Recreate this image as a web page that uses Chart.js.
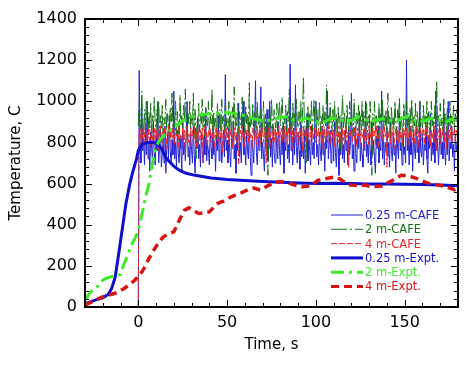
<!DOCTYPE html>
<html>
<head>
<meta charset="utf-8">
<script src="https://cdn.jsdelivr.net/npm/chart.js@4/dist/chart.umd.min.js"></script>
<style>
  html, body { margin: 0; padding: 0; background: #fff; }
  #wrap { width: 474px; height: 366px; }
</style>
</head>
<body>
<div id="wrap"><canvas id="temps"></canvas></div>
<script>
// tick labels
const xTicks = [0, 50, 100, 150]
const yTicks = [0, 200, 400, 600, 800, 1000, 1200, 1400]

// CAFE runs, two samples per second from t = 0 (one row = 10 s)
const cafeStart = 0
const cafeStep = 0.5
const cafe025 = [
  0, 1150, 780, 700, 960, 760, 820, 690, 880, 740, 1000, 720, 800, 660, 850, 770, 710, 900, 750, 690,
  830, 760, 1000, 700, 790, 860, 680, 740, 820, 700, 880, 650, 770, 840, 720, 930, 760, 690, 810, 740,
  1050, 720, 800, 680, 860, 750, 700, 820, 770, 660, 900, 740, 800, 710, 850, 1000, 730, 780, 690, 840,
  760, 700, 880, 740, 650, 810, 770, 920, 720, 790, 680, 850, 760, 700, 830, 740, 960, 710, 790, 760,
  690, 850, 770, 720, 880, 740, 800, 660, 820, 760, 930, 710, 790, 840, 700, 770, 860, 730, 1130, 760,
  810, 700, 870, 750, 680, 820, 770, 900, 720, 790, 650, 840, 760, 990, 730, 800, 700, 860, 1000, 740,
  780, 690, 850, 760, 720, 900, 740, 640, 810, 770, 700, 870, 1100, 750, 690, 830, 760, 880, 1070, 720,
  800, 740, 660, 850, 770, 960, 710, 790, 1000, 730, 820, 680, 880, 750, 700, 840, 770, 720, 900, 760,
  690, 830, 740, 880, 650, 800, 760, 940, 720, 790, 700, 1180, 760, 830, 690, 870, 740, 1080, 780, 700,
  850, 760, 670, 900, 730, 800, 720, 860, 650, 770, 940, 710, 810, 760, 690, 880, 740, 800, 720, 960,
  1000, 730, 790, 690, 850, 760, 710, 880, 740, 800, 660, 830, 770, 1050, 720, 790, 860, 700, 760, 840,
  710, 900, 750, 680, 820, 770, 640, 850, 740, 920, 720, 790, 700, 860, 760, 810, 690, 880, 740, 800,
  1040, 720, 790, 660, 870, 750, 700, 830, 770, 950, 710, 800, 740, 680, 860, 760, 1000, 730, 790, 700,
  850, 760, 690, 900, 740, 810, 720, 650, 830, 770, 880, 700, 790, 760, 1050, 720, 840, 690, 800, 750,
  870, 730, 800, 680, 920, 760, 710, 830, 740, 790, 650, 860, 770, 720, 940, 760, 800, 690, 850, 740,
  780, 700, 1200, 760, 820, 690, 880, 740, 800, 660, 850, 770, 720, 900, 750, 810, 700, 1000, 760, 730,
  840, 690, 790, 760, 880, 720, 650, 830, 770, 940, 710, 800, 740, 860, 700, 1050, 760, 820, 690, 780,
  870, 740, 800, 720, 960, 760, 690, 850, 740, 1000, 710, 800, 770, 880, 730, 790, 660, 840, 760, 800,
  780
]
const cafe2 = [
  880, 1000, 920, 860, 1050, 900, 830, 960, 880, 1000, 910, 840, 950, 870, 990, 820, 930, 880, 1020, 900,
  850, 960, 880, 1000, 830, 930, 870, 980, 800, 920, 890, 1010, 860, 940, 880, 820, 970, 900, 1040, 860,
  920, 870, 1000, 840, 950, 890, 800, 1030, 880, 930, 850, 980, 900, 1060, 870, 830, 940, 890, 1000, 860,
  930, 880, 1040, 820, 960, 720, 900, 870, 990, 850, 930, 890, 1010, 860, 940, 830, 970, 900, 880, 1000,
  860, 930, 890, 1060, 840, 950, 880, 920, 820, 990, 900, 870, 960, 840, 1010, 890, 930, 850, 980, 880,
  920, 860, 1000, 880, 940, 820, 970, 900, 1070, 860, 930, 880, 990, 840, 950, 900, 870, 1020, 880, 930,
  850, 980, 890, 940, 830, 1090, 870, 920, 880, 990, 840, 950, 900, 860, 1000, 880, 930, 820, 960, 890,
  870, 1000, 850, 940, 760, 900, 640, 880, 950, 870, 1010, 890, 840, 960, 900, 870, 990, 850, 930, 1000,
  880, 940, 1020, 860, 930, 890, 980, 840, 950, 900, 1060, 870, 920, 840, 990, 880, 940, 860, 1010, 900,
  870, 950, 880, 1000, 830, 960, 1120, 890, 870, 700, 920, 980, 860, 940, 890, 1000, 850, 930, 1010, 880,
  840, 960, 900, 880, 1000, 850, 930, 890, 980, 820, 950, 880, 1080, 870, 930, 860, 990, 900, 840, 960,
  880, 1000, 860, 940, 820, 970, 890, 930, 760, 900, 1030, 870, 950, 890, 840, 980, 900, 860, 1000, 880,
  970, 880, 830, 1010, 900, 860, 950, 890, 980, 840, 930, 880, 1000, 860, 950, 900, 820, 990, 880, 930,
  870, 1000, 900, 640, 940, 880, 1000, 850, 930, 890, 820, 990, 870, 940, 900, 1010, 860, 930, 880, 960,
  850, 1040, 890, 930, 820, 970, 880, 920, 860, 1000, 890, 840, 960, 900, 1020, 860, 930, 880, 780, 990,
  900, 860, 1000, 880, 940, 830, 970, 890, 1010, 850, 930, 880, 990, 860, 950, 900, 840, 1000, 880, 920,
  870, 980, 890, 930, 830, 1000, 870, 950, 900, 860, 1000, 880, 930, 850, 980, 900, 1100, 870, 930, 850,
  990, 880, 920, 860, 1010, 890, 940, 850, 970, 900, 880, 1000, 860, 930, 890, 980, 850, 940, 900, 960,
  880
]
const cafe4 = [
  0, 850, 790, 870, 810, 860, 770, 840, 880, 800, 850, 820, 870, 780, 840, 880, 810, 830, 870, 790,
  860, 820, 870, 760, 840, 880, 800, 850, 790, 870, 830, 860, 770, 840, 880, 810, 850, 800, 870, 820,
  860, 790, 870, 830, 850, 770, 880, 820, 840, 800, 870, 810, 860, 740, 850, 880, 800, 840, 780, 870,
  830, 860, 800, 880, 820, 850, 770, 870, 840, 810, 860, 790, 870, 700, 840, 880, 810, 850, 780, 860,
  830, 870, 800, 850, 820, 880, 770, 840, 870, 810, 850, 790, 860, 820, 880, 750, 840, 860, 800, 870,
  820, 850, 790, 880, 830, 860, 770, 840, 870, 810, 850, 800, 870, 690, 840, 860, 810, 880, 820, 850,
  780, 870, 830, 860, 800, 880, 820, 840, 770, 870, 850, 810, 860, 790, 880, 820, 850, 780, 860, 830,
  870, 800, 840, 880, 700, 850, 820, 870, 770, 840, 880, 810, 860, 800, 870, 830, 850, 770, 880, 820,
  840, 870, 800, 860, 820, 880, 780, 850, 830, 870, 810, 840, 880, 770, 860, 820, 850, 800, 870, 830,
  850, 790, 870, 820, 860, 760, 880, 830, 840, 800, 870, 820, 850, 780, 880, 830, 860, 810, 870, 840,
  800, 860, 830, 870, 790, 850, 820, 880, 770, 840, 870, 810, 860, 800, 880, 830, 850, 790, 870, 820,
  860, 780, 870, 830, 850, 800, 880, 820, 840, 770, 870, 810, 860, 790, 880, 820, 850, 680, 860, 830,
  870, 800, 840, 880, 810, 860, 780, 870, 830, 850, 800, 880, 820, 840, 770, 870, 850, 810, 860, 790,
  880, 820, 850, 780, 870, 830, 860, 790, 880, 820, 840, 770, 870, 850, 810, 860, 800, 880, 830, 850,
  680, 860, 820, 870, 790, 850, 830, 880, 770, 840, 870, 810, 860, 800, 880, 820, 850, 790, 870, 830,
  860, 800, 870, 830, 850, 780, 880, 820, 840, 810, 870, 790, 860, 830, 880, 770, 850, 820, 870, 810,
  850, 870, 790, 860, 830, 880, 800, 840, 870, 780, 860, 820, 850, 800, 880, 830, 760, 870, 840, 810,
  870, 790, 860, 830, 880, 800, 850, 770, 870, 820, 860, 810, 880, 790, 850, 830, 870, 800, 860, 840,
  850
]

// thermocouple measurements
const exp025Time = [-30, -27, -24, -20, -17, -15, -13, -11, -9, -7, -5, -3, -1, 0, 2, 5, 8, 11, 13, 16,
  20, 23, 27, 32, 41, 50, 60, 70, 80, 90, 100, 110, 120, 130, 140, 150, 160, 170, 180]
const exp025 = [15, 25, 35, 45, 60, 90, 145, 260, 380, 500, 590, 660, 720, 760, 790, 800, 800, 795, 770, 720,
  685, 665, 650, 640, 627, 620, 615, 610, 606, 603, 600, 602, 600, 598, 598, 597, 595, 593, 590]

const exp2Time = [-30, -28, -26, -24, -22, -20, -18, -15, -12, -10, -8, -6, -4, -2, 0, 2, 4, 6, 8, 10,
  12, 15, 18, 21, 25, 30, 35, 40, 45, 50, 55, 60, 65, 70, 75, 80, 84, 88, 91, 94,
  98, 102, 106, 109, 113, 117, 121, 124, 127, 130, 134, 139, 142, 145, 148, 151, 154, 158, 162, 165,
  169, 173, 176, 180]
const exp2 = [30, 60, 80, 90, 110, 130, 140, 148, 152, 158, 210, 250, 300, 330, 370, 450, 530, 600, 700, 780,
  810, 840, 860, 880, 905, 925, 935, 940, 942, 945, 940, 930, 915, 905, 908, 922, 925, 902, 905, 918,
  910, 895, 905, 918, 912, 900, 910, 925, 915, 900, 908, 918, 908, 900, 915, 925, 912, 900, 908, 918,
  910, 900, 910, 918]

const exp4Time = [-30, -25, -20, -15, -12, -8, -5, -2, 0, 2, 4, 6, 9, 12, 14, 17, 20, 23, 26, 28.5,
  31, 34, 37, 40, 43, 45, 48, 51, 55, 58, 62, 65, 69, 73, 77, 80, 84, 88, 92, 97,
  101, 106, 111, 114, 118, 123, 128, 131, 137, 143, 148, 152, 156, 160, 163, 168, 173, 178, 180]
const exp4 = [10, 30, 50, 62, 70, 90, 108, 130, 150, 170, 200, 235, 280, 320, 340, 355, 365, 420, 470, 482,
  470, 455, 458, 462, 490, 505, 515, 530, 545, 555, 572, 578, 568, 590, 605, 610, 605, 593, 585, 588,
  615, 625, 633, 620, 595, 590, 593, 585, 588, 615, 640, 638, 627, 612, 602, 595, 585, 570, 580]

const cafePts = vals => vals.map((v, i) => ({x: cafeStart + i * cafeStep, y: v}))
const pairs = (ts, vals) => ts.map((t, i) => ({x: t, y: vals[i]}))

const datasets = [
  {label: '0.25 m-CAFE', data: cafePts(cafe025), borderColor: 'rgb(35,35,215)', borderWidth: 1, order: 6},
  {label: '2 m-CAFE', data: cafePts(cafe2), borderColor: 'rgb(20,115,20)', borderWidth: 1, borderDash: [16, 3, 2, 3], order: 5},
  {label: '4 m-CAFE', data: cafePts(cafe4), borderColor: 'rgb(232,40,40)', borderWidth: 1, borderDash: [6, 2], order: 4},
  {label: '0.25 m-Expt.', data: pairs(exp025Time, exp025), borderColor: 'rgb(15,15,205)', borderWidth: 3, order: 3},
  {label: '2 m-Expt.', data: pairs(exp2Time, exp2), borderColor: 'rgb(60,235,40)', borderWidth: 3, borderDash: [13, 5, 3, 5], order: 2},
  {label: '4 m-Expt.', data: pairs(exp4Time, exp4), borderColor: 'rgb(215,20,20)', borderWidth: 3.5, borderDash: [8, 5], order: 1}
]

// closed frame with inward major/minor ticks on all sides, plus the inset legend
const framePlugin = {
  id: 'frame',
  afterDraw(chart) {
    const {ctx, chartArea: a, scales: {x, y}} = chart
    ctx.save()
    ctx.strokeStyle = '#000'
    ctx.lineWidth = 1
    ctx.beginPath()
    for (let t = -30; t <= 180; t += 10) {
      const px = Math.round(x.getPixelForValue(t)) + 0.5
      const len = xTicks.includes(t) ? 7 : 4
      ctx.moveTo(px, a.bottom); ctx.lineTo(px, a.bottom - len)
      ctx.moveTo(px, a.top); ctx.lineTo(px, a.top + len)
    }
    for (let v = 0; v <= 1400; v += 40) {
      const py = Math.round(y.getPixelForValue(v)) + 0.5
      const len = yTicks.includes(v) ? 7 : 4
      ctx.moveTo(a.left, py); ctx.lineTo(a.left + len, py)
      ctx.moveTo(a.right, py); ctx.lineTo(a.right - len, py)
    }
    ctx.stroke()
    ctx.lineWidth = 2
    ctx.strokeRect(a.left, a.top, a.right - a.left, a.bottom - a.top)

    // legend
    const x0 = a.right - 127, x1 = a.right - 95, tx = a.right - 93
    ctx.font = '11.5px "DejaVu Sans"'
    ctx.textBaseline = 'middle'
    chart.data.datasets.forEach((ds, i) => {
      const ly = a.top + 196 + i * 14.3
      ctx.strokeStyle = ds.borderColor
      ctx.lineWidth = Math.min(ds.borderWidth, 3)
      ctx.setLineDash(ds.borderDash || [])
      ctx.beginPath()
      ctx.moveTo(x0, ly); ctx.lineTo(x1, ly)
      ctx.stroke()
      ctx.setLineDash([])
      ctx.fillStyle = ds.borderColor
      ctx.fillText(ds.label, tx, ly + 1)
    })
    ctx.restore()
  }
}

Chart.defaults.font.family = '"DejaVu Sans", sans-serif'
Chart.defaults.color = '#000'

new Chart(document.getElementById('temps'), {
  type: 'line',
  data: {datasets: datasets},
  options: {
    responsive: true,
    maintainAspectRatio: false,
    animation: false,
    layout: {padding: {top: 19, right: 16, left: 0, bottom: 0}},
    elements: {point: {radius: 0}, line: {tension: 0, fill: false}},
    plugins: {legend: {display: false}, tooltip: {enabled: false}},
    scales: {
      x: {
        type: 'linear', min: -30, max: 180,
        afterBuildTicks: s => { s.ticks = xTicks.map(v => ({value: v})) },
        afterFit: s => { s.height = 59 },
        grid: {display: false, drawTicks: false},
        border: {display: false},
        ticks: {font: {size: 16}, padding: 6, callback: v => String(v)},
        title: {display: true, text: 'Time, s', font: {size: 15}, padding: {top: 0, bottom: 12}}
      },
      y: {
        type: 'linear', min: 0, max: 1400,
        afterBuildTicks: s => { s.ticks = yTicks.map(v => ({value: v})) },
        afterFit: s => { s.width = 85 },
        grid: {display: false, drawTicks: false},
        border: {display: false},
        ticks: {font: {size: 16}, padding: 8, callback: v => String(v)},
        title: {display: true, text: 'Temperature, C', font: {size: 15}, padding: {top: 7, bottom: 0}}
      }
    }
  },
  plugins: [framePlugin]
})
</script>
</body>
</html>
